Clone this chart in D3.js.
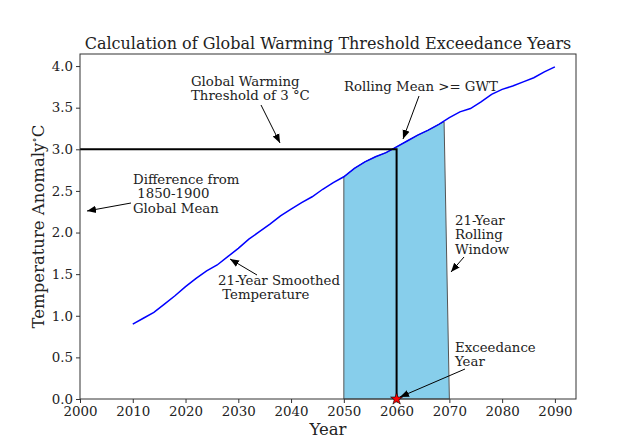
<!DOCTYPE html>
<html>
<head>
<meta charset="utf-8">
<script src="https://cdn.jsdelivr.net/npm/d3@7"></script>
<style>
  body { margin: 0; background: #fff; }
  text { font-family: 'DejaVu Serif', serif; fill: #222; }
</style>
</head>
<body>
<svg id="chart" width="640" height="448"></svg>
<script>
// Years and 21-year smoothed temperature anomaly
const years = [2010, 2012, 2014, 2016, 2018, 2020, 2022, 2024, 2026, 2028,
  2030, 2032, 2034, 2036, 2038, 2040, 2042, 2044, 2046, 2048,
  2050, 2052, 2054, 2056, 2058, 2060, 2062, 2064, 2066, 2068,
  2070, 2072, 2074, 2076, 2078, 2080, 2082, 2084, 2086, 2088, 2090];
const smoothed = [0.90, 0.97, 1.04, 1.14, 1.24, 1.35, 1.45, 1.54, 1.61, 1.71,
  1.81, 1.92, 2.01, 2.10, 2.20, 2.28, 2.36, 2.43, 2.52, 2.60,
  2.67, 2.77, 2.85, 2.91, 2.96, 3.03, 3.10, 3.17, 3.23, 3.30,
  3.38, 3.45, 3.49, 3.57, 3.66, 3.72, 3.76, 3.81, 3.86, 3.93, 3.99];

// Threshold, exceedance year and rolling window
const threshold = 3.0;
const exceedYear = 2060;
const windowStart = 2050;
const windowTop = [2069, 3.33];
const windowEnd = 2070;

// Tick values
const xTicks = [2000, 2010, 2020, 2030, 2040, 2050, 2060, 2070, 2080, 2090];
const yTicks = [0, 0.5, 1.0, 1.5, 2.0, 2.5, 3.0, 3.5, 4.0];

const svg = d3.select('#chart');
const margin = { left: 80, right: 64, top: 54, bottom: 49 };
const width = 640 - margin.left - margin.right;
const height = 448 - margin.top - margin.bottom;

const x = d3.scaleLinear().domain([2000, 2094]).range([margin.left, margin.left + width]);
const y = d3.scaleLinear().domain([0, 4.145]).range([margin.top + height, margin.top]);

const data = years.map((yr, i) => [yr, smoothed[i]]);

// Arrow head
svg.append('defs')
  .append('marker')
  .attr('id', 'head')
  .attr('viewBox', '0 0 10 10')
  .attr('refX', 10)
  .attr('refY', 5)
  .attr('markerWidth', 9)
  .attr('markerHeight', 9)
  .attr('markerUnits', 'userSpaceOnUse')
  .attr('orient', 'auto')
  .append('path')
  .attr('d', 'M0,1 L10,5 L0,9 Z')
  .attr('fill', '#000');

// Rolling window polygon
const win = [[windowStart, 0]]
  .concat(data.filter((d) => d[0] >= windowStart && d[0] < windowTop[0]))
  .concat([windowTop, [windowEnd, 0]]);
svg.append('path')
  .attr('d', d3.line().x((d) => x(d[0])).y((d) => y(d[1]))(win) + 'Z')
  .attr('fill', '#87ceeb')
  .attr('stroke', '#555')
  .attr('stroke-width', 1);

// Smoothed temperature line
svg.append('path')
  .datum(data)
  .attr('d', d3.line().x((d) => x(d[0])).y((d) => y(d[1])))
  .attr('fill', 'none')
  .attr('stroke', '#0000ff')
  .attr('stroke-width', 1.5);

// Threshold lines
svg.append('path')
  .attr('d', `M${x(2000)},${y(threshold)}H${x(exceedYear)}V${y(0)}`)
  .attr('fill', 'none')
  .attr('stroke', '#000')
  .attr('stroke-width', 2);

// Axes
const xAxis = svg.append('g')
  .attr('transform', `translate(0,${margin.top + height})`)
  .call(d3.axisBottom(x).tickValues(xTicks).tickFormat(d3.format('d')).tickSizeOuter(0).tickSize(4));
const yAxis = svg.append('g')
  .attr('transform', `translate(${margin.left},0)`)
  .call(d3.axisLeft(y).tickValues(yTicks).tickFormat(d3.format('.1f')).tickSizeOuter(0).tickSize(4));
[xAxis, yAxis].forEach((g) => {
  g.select('.domain').remove();
  g.selectAll('line').attr('stroke', '#333');
  g.selectAll('text').attr('font-size', '13.4px').attr('fill', '#222')
    .attr('font-family', 'DejaVu Serif');
});
xAxis.selectAll('text').attr('dy', '0.76em');

// Frame
svg.append('rect')
  .attr('x', margin.left)
  .attr('y', margin.top)
  .attr('width', width)
  .attr('height', height)
  .attr('fill', 'none')
  .attr('stroke', '#333')
  .attr('stroke-width', 1);

// Exceedance star
svg.append('path')
  .attr('d', d3.symbol().type(d3.symbolStar).size(45)())
  .attr('transform', `translate(${x(exceedYear)},${y(0)})`)
  .attr('fill', 'red')
  .attr('stroke', '#000')
  .attr('stroke-width', 0.6);

// Title and axis labels
svg.append('text')
  .attr('x', margin.left + width / 2)
  .attr('y', 49)
  .attr('text-anchor', 'middle')
  .attr('font-size', '16px')
  .text('Calculation of Global Warming Threshold Exceedance Years');
svg.append('text')
  .attr('x', margin.left + width / 2)
  .attr('y', 435)
  .attr('text-anchor', 'middle')
  .attr('font-size', '16.5px')
  .text('Year');
const yLab = svg.append('text')
  .attr('transform', `translate(44,${margin.top + height / 2}) rotate(-90)`)
  .attr('text-anchor', 'middle')
  .attr('font-size', '16.5px');
yLab.append('tspan').text('Temperature Anomaly');
yLab.append('tspan').attr('dy', -6).attr('font-size', '11px').text('\u2218');
yLab.append('tspan').attr('dy', 6).text('C');

// Annotations
const notes = [
  { lines: ['Global Warming', 'Threshold of 3 \u00b0C'], tx: 191, ty: 86, from: [261, 105], to: [280, 143] },
  { lines: ['Difference from', ' 1850-1900', 'Global Mean'], tx: 133, ty: 184, from: [131, 203], to: [87, 211] },
  { lines: ['Rolling Mean >= GWT'], tx: 344, ty: 91, from: [419, 96], to: [403, 139] },
  { lines: ['21-Year Smoothed', ' Temperature'], tx: 218, ty: 285, from: [257, 275], to: [230, 259] },
  { lines: ['21-Year', 'Rolling', 'Window'], tx: 455, ty: 225, from: [464, 257], to: [451, 272] },
  { lines: ['Exceedance', 'Year'], tx: 455, ty: 352, from: [465, 369], to: [400, 397] }
];
notes.forEach((n) => {
  const t = svg.append('text')
    .attr('x', n.tx)
    .attr('y', n.ty)
    .attr('font-size', '13.3px')
    .attr('xml:space', 'preserve');
  n.lines.forEach((l, i) => {
    t.append('tspan').attr('x', n.tx).attr('dy', i === 0 ? 0 : '1.08em').text(l);
  });
  svg.append('line')
    .attr('x1', n.from[0]).attr('y1', n.from[1])
    .attr('x2', n.to[0]).attr('y2', n.to[1])
    .attr('stroke', '#000')
    .attr('stroke-width', 1)
    .attr('marker-end', 'url(#head)');
});
</script>
</body>
</html>
